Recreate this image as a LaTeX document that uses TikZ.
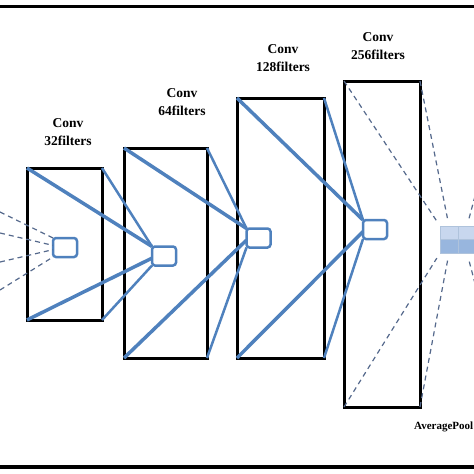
\documentclass[tikz,border=0pt]{standalone}
\usepackage{fontspec}
\setmainfont{Liberation Serif}
\definecolor{linkblue}{HTML}{4F81BD}
\definecolor{dashgray}{RGB}{85,105,140}
\definecolor{poollight}{RGB}{200,215,238}
\definecolor{pooldark}{RGB}{152,182,222}
\tikzset{
  convbox/.style={draw=black, line width=3pt, outer sep=0pt, inner sep=0pt},
  filterbox/.style={draw=linkblue, fill=white, line width=2.5pt, rounded corners=3pt,
    minimum width=24pt, minimum height=19pt, outer sep=0pt, inner sep=0pt},
  poolcell/.style={draw={rgb,255:red,175;green,195;blue,220}, line width=0.6pt,
    minimum width=18pt, minimum height=13.5pt, inner sep=0pt, outer sep=0pt},
  convlabel/.style={align=center, inner sep=0pt, font=\bfseries\fontsize{13.5}{18}\selectfont},
  thickline/.style={linkblue, line width=3.5pt},
  thinline/.style={linkblue, line width=2.5pt},
  dashline/.style={dashgray, line width=1.2pt, dash pattern=on 5pt off 4pt},
}
\begin{document}
\begin{tikzpicture}[x=1pt,y=-1pt]
\useasboundingbox (0,0) rectangle (474,474);
\clip (0,0) rectangle (474,474);
\draw [line width=3pt] (0,6) -- (474,6);
\draw [line width=4pt] (0,467) -- (474,467);
% conv layers
\node[convbox, minimum width=75pt, minimum height=152pt] (conv1) at (64.5,244) {};
\node[convbox, minimum width=83pt, minimum height=210pt] (conv2) at (165.5,253) {};
\node[convbox, minimum width=87pt, minimum height=260pt] (conv3) at (280.5,228) {};
\node[convbox, minimum width=76pt, minimum height=326pt] (conv4) at (382,244) {};
% filters
\node[filterbox] (f1) at (65,247.5) {};
\node[filterbox] (f2) at (164,256) {};
\node[filterbox] (f3) at (258.5,238) {};
\node[filterbox] (f4) at (375,229.5) {};
% pooling
\node[poolcell, fill=poollight] (pa) at (449,232.75) {};
\node[poolcell, fill=poollight] (pb) at (467,232.75) {};
\node[poolcell, fill=pooldark] (pc) at (449,246.25) {};
\node[poolcell, fill=pooldark] (pd) at (467,246.25) {};
% labels
\node[convlabel] (lab1) at (68,132) {Conv\\32filters};
\node[convlabel] (lab2) at (182,102.5) {Conv\\64filters};
\node[convlabel] (lab3) at (283,58.5) {Conv\\128filters};
\node[convlabel] (lab4) at (378,46) {Conv\\256filters};
\node[anchor=west, inner sep=0pt, font=\bfseries\fontsize{11}{13}\selectfont] (poollab) at (414,427) {AveragePool};
% input
\coordinate (in1) at (0,212);
\coordinate (in2) at (0,233);
\coordinate (in3) at (0,262);
\coordinate (in4) at (0,290);
\foreach \a/\t in {in1/north west, in2/170, in3/190, in4/south west}
  \draw[dashline] (\a) -- (f1.\t);
% links
\foreach \i/\j in {1/2,2/3,3/4} {
  \draw[thickline] (conv\i.north west) -- (f\j.north west);
  \draw[thinline] (conv\i.north east) -- (f\j.north west);
  \draw[thickline] (conv\i.south west) -- (f\j.190);
  \draw[thinline] (conv\i.south east) -- (f\j.south west);
}
% to pooling
\draw[dashline, shorten >=6pt] (conv4.north west) -- (pa.north west);
\draw[dashline, shorten >=8pt] (conv4.north east) -- (pa.north);
\draw[dashline, shorten >=6pt] (conv4.south west) -- (pc.south west);
\draw[dashline, shorten >=6pt] (conv4.south east) -- (pc.south);
\coordinate (out1) at (482,170);
\coordinate (out2) at (482,310);
\draw[dashline, shorten >=8pt] (out1) -- (pb.north);
\draw[dashline, shorten >=8pt] (out2) -- (pd.south);
\end{tikzpicture}
\end{document}
